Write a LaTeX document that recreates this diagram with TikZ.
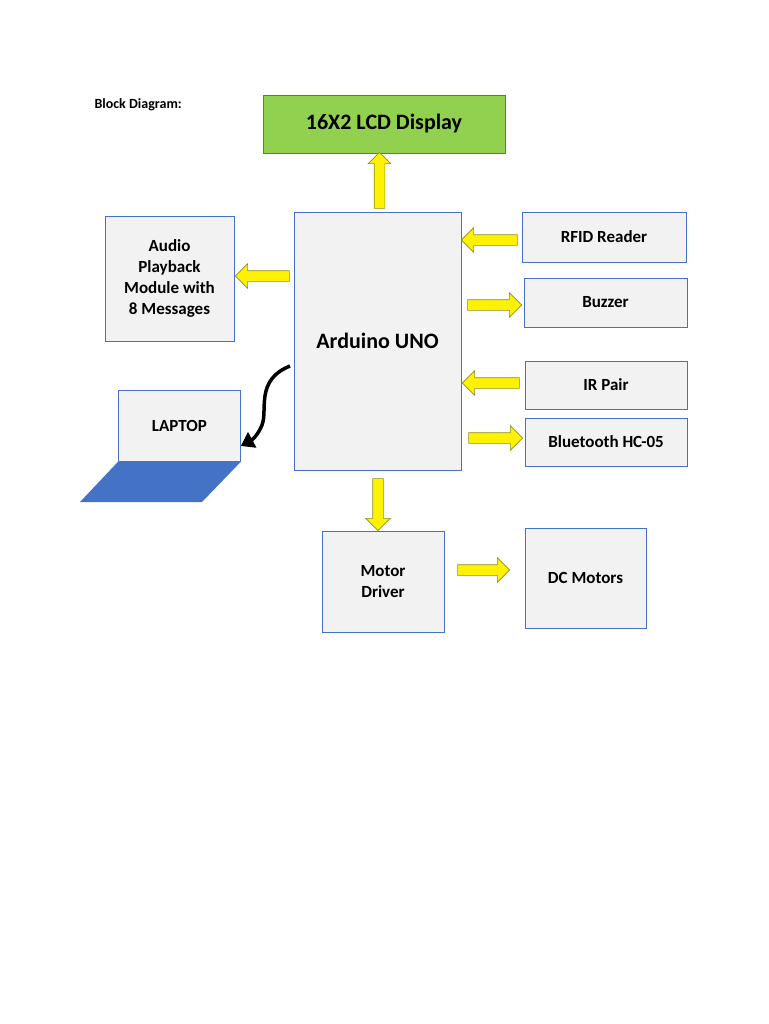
\documentclass[tikz,border=0pt]{standalone}
\usepackage{fontspec}
\setmainfont{Carlito}
\usetikzlibrary{shapes.arrows,arrows.meta}
\definecolor{boxfill}{HTML}{F2F2F2}
\definecolor{boxline}{HTML}{4472C4}
\definecolor{lcdgreen}{HTML}{92D050}
\definecolor{arrline}{HTML}{8C8C2A}
\begin{document}
\begin{tikzpicture}[x=1pt,y=-1pt,
  box/.style={draw=boxline,fill=boxfill,line width=0.8pt,align=center,font=\bfseries\fontsize{17}{21}\selectfont},
  barrow/.style={single arrow,draw=arrline,fill=yellow,line width=0.6pt,minimum width=30pt,single arrow head extend=6pt,inner sep=5pt,single arrow head indent=0pt}]
\useasboundingbox (0,0) rectangle (768,1024);
\node[anchor=west,font=\bfseries\fontsize{14}{16}\selectfont] (title) at (91,105) {Block Diagram:};
\node[box,fill=lcdgreen,minimum width=242pt,minimum height=58pt,font=\bfseries\fontsize{22}{26}\selectfont] (lcd) at (384,124) {16X2 LCD Display};
\node[box,minimum width=167pt,minimum height=258pt,font=\bfseries\fontsize{22}{26}\selectfont] (ard) at (377.5,341) {Arduino UNO};
\node[box,minimum width=129pt,minimum height=125pt] (audio) at (169.5,278.5) {Audio\\Playback\\Module with\\8 Messages};
\node[box,minimum width=164pt,minimum height=50pt] (rfid) at (604,237) {RFID Reader};
\node[box,minimum width=163pt,minimum height=49pt] (buzz) at (605.5,302.5) {Buzzer};
\node[box,minimum width=162pt,minimum height=48pt] (ir) at (606,385) {IR Pair};
\node[box,minimum width=162pt,minimum height=48pt] (bt) at (606,442) {Bluetooth HC-05};
\node[box,minimum width=122pt,minimum height=101pt] (md) at (383,581.5) {Motor\\Driver};
\node[box,minimum width=121pt,minimum height=100pt] (dc) at (585.5,578) {DC Motors};
\node[box,minimum width=122pt,minimum height=71pt,anchor=north west] (lap) at (118,390) {LAPTOP};
\fill[boxline] (lap.south west) -- (lap.south east) -- (202,502) -- (80,502) -- cycle;
% block arrows
\node[barrow,rotate=90,minimum height=56pt,minimum width=19pt,single arrow head extend=6pt] (a1) at (379.5,183) {};
\node[barrow,rotate=180,minimum height=54pt,minimum width=17pt,single arrow head extend=7pt] (a2) at (265,276) {};
\node[barrow,rotate=180,minimum height=56pt,minimum width=18pt,single arrow head extend=7pt] (a3) at (492,240) {};
\node[barrow,minimum height=54pt,minimum width=18pt,single arrow head extend=7pt] (a4) at (492,305) {};
\node[barrow,rotate=180,minimum height=57pt,minimum width=18pt,single arrow head extend=7pt] (a5) at (493.5,383) {};
\node[barrow,minimum height=54pt,minimum width=18pt,single arrow head extend=7pt] (a6) at (493,438) {};
\node[barrow,rotate=-90,minimum height=52pt,minimum width=18pt,single arrow head extend=7pt] (a7) at (378,502) {};
\node[barrow,minimum height=52pt,minimum width=18pt,single arrow head extend=7pt] (a8) at (481,570) {};
% curved arrow
\coordinate (cs) at (290,366);
\draw[line width=3.5pt,-{Triangle[length=13pt,width=17pt]}] (cs) .. controls (255,380) and (268,410) .. (262,425) .. controls (258,435) and (252,440) .. (lap.east|-0,446);
\end{tikzpicture}
\end{document}
